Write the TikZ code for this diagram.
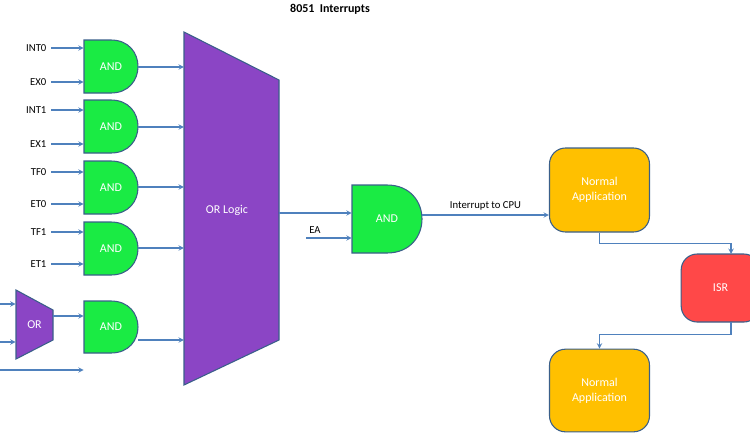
\documentclass[tikz,border=0pt]{standalone}
\usepackage{fontspec}
\setmainfont{Carlito}
\usetikzlibrary{calc}
\definecolor{gatefill}{HTML}{1AEB44}
\definecolor{orfill}{HTML}{8B45C5}
\definecolor{appfill}{HTML}{FFC000}
\definecolor{isrfill}{HTML}{FF4848}
\definecolor{edge}{HTML}{3A5F8A}
\definecolor{wire}{HTML}{4F81BD}
\tikzset{
  wireline/.style={draw=wire, thick, ->, >=stealth},
  block/.style={draw=edge, thick, rounded corners=12pt, text=white, align=center, font=\small},
  lbl/.style={font=\footnotesize, anchor=east, inner sep=1pt},
}
% AND gate: name, left x, top y, width, height
\newcommand{\andgate}[5]{%
  \draw[edge, thick, fill=gatefill] (#2,#3) -- ({#2+#4/2},#3)
    .. controls ({#2+#4/2+#4*2/3},#3) and ({#2+#4/2+#4*2/3},{#3+#5}) .. ({#2+#4/2},{#3+#5})
    -- (#2,{#3+#5}) -- cycle;
  \node[text=white, font=\small, minimum width=#4*0.75pt, minimum height=#5*0.75pt, inner sep=0pt]
    (#1) at ({#2+#4/2},{#3+#5/2}) {AND};}
\begin{document}
\begin{tikzpicture}[x=0.75pt, y=-0.75pt]
  \useasboundingbox (0,0) rectangle (750,440);

  \node[font=\small\bfseries] (title) at (330,9) {8051\ \ Interrupts};

  % input gates
  \andgate{g1}{84}{40}{54}{53}
  \andgate{g2}{84}{100}{54}{53}
  \andgate{g3}{84}{161}{54}{53}
  \andgate{g4}{84}{222}{54}{53}
  \andgate{g5}{84}{301}{54}{52}

  % big OR block
  \draw[edge, thick, fill=orfill] (184,32) -- (279,80) -- (279,340) -- (184,385) -- cycle;
  \node[text=white, font=\small, minimum width=71pt, minimum height=264pt, inner sep=0pt] (orlogic) at (231.5,208.5) {};
  \node[text=white, font=\small] (orlbl) at (227,210) {OR Logic};

  % small OR
  \draw[edge, thick, fill=orfill] (16,290) -- (53,310) -- (53,340) -- (16,359) -- cycle;
  \node[text=white, font=\small, minimum width=28pt, minimum height=50pt, inner sep=0pt] (or1) at (34.5,324.5) {OR};

  % interrupt sources
  \foreach \name/\txt/\y/\g in {int0/INT0/48/g1, ex0/EX0/82/g1, int1/INT1/110/g2, ex1/EX1/144/g2,
                               tf0/TF0/172/g3, et0/ET0/204/g3, tf1/TF1/232/g4, et1/ET1/264/g4} {
    \node[lbl] (\name) at (48,\y) {\txt};
    \draw[wireline] ($(\name.east)+(3,0)$) -- (\name -| \g.west);
  }
  \foreach \g/\y in {g1/67, g2/127, g3/187, g4/248, g5/340} {
    \coordinate (\g o) at (138,\y);
    \draw[wireline] (\g o) -- (\g o -| orlogic.west);
  }
  \coordinate (a1) at (0,304);
  \coordinate (a2) at (0,342);
  \coordinate (a3) at (0,370);
  \coordinate (or1o) at (53,316);
  \draw[wireline] (a1) -- (a1 -| or1.west);
  \draw[wireline] (a2) -- (a2 -| or1.west);
  \draw[wireline] (or1o) -- (or1o -| g5.west);
  \draw[wireline] (a3) -- (a3 -| g5.west);

  % global enable
  \andgate{gea}{352}{185}{70}{68}
  \coordinate (orout) at (279,213);
  \draw[wireline] (orout) -- (orout -| gea.west);
  \node[font=\footnotesize] (ea) at (315,230) {EA};
  \coordinate (eain) at (306,238);
  \draw[wireline] (eain) -- (eain -| gea.west);

  % cpu side
  \node[block, fill=appfill, minimum width=75pt, minimum height=63pt] (app1) at (599.5,190) {Normal\\Application};
  \node[block, fill=isrfill, minimum width=59pt, minimum height=51pt] (isr) at (720.5,288) {ISR};
  \node[block, fill=appfill, minimum width=75pt, minimum height=62pt] (app2) at (599.5,390.5) {Normal\\Application};

  \coordinate (geao) at (422,215);
  \draw[wireline] (geao) -- node[above, font=\footnotesize, text=black] {Interrupt to CPU} (geao -| app1.west);
  \draw[wireline] (app1.south) |- ($(app1.south)+(0,11)$) -| (731,254);
  \draw[wireline] (731,322) |- ($(app2.north)+(0,-14)$) -- (app2.north);
\end{tikzpicture}
\end{document}
